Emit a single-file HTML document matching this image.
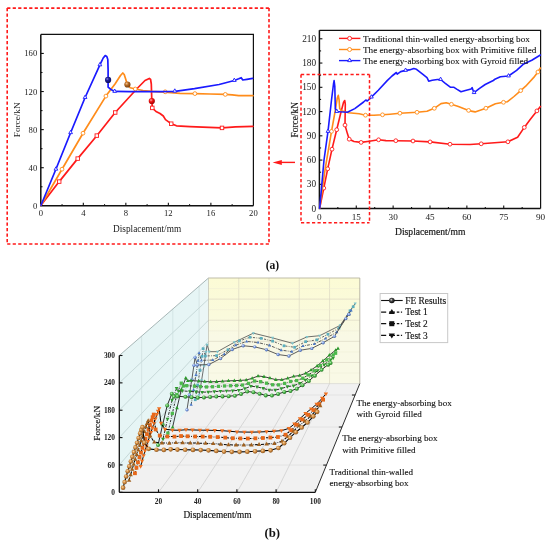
<!DOCTYPE html>
<html><head><meta charset="utf-8"><title>Figure</title><style>html,body{margin:0;padding:0;background:#fff;}svg{display:block;}</style></head><body>
<svg width="550" height="543" viewBox="0 0 550 543" font-family="'Liberation Serif','Times New Roman',serif">
<defs>
<radialGradient id="gNavy" cx="0.38" cy="0.35" r="0.7"><stop offset="0" stop-color="#8a8ae0"/><stop offset="0.35" stop-color="#1f1f9a"/><stop offset="1" stop-color="#0a0a50"/></radialGradient>
<radialGradient id="gBrown" cx="0.38" cy="0.35" r="0.7"><stop offset="0" stop-color="#f0c090"/><stop offset="0.4" stop-color="#b86a20"/><stop offset="1" stop-color="#6a3a10"/></radialGradient>
<radialGradient id="gRed" cx="0.38" cy="0.35" r="0.7"><stop offset="0" stop-color="#ffb0b0"/><stop offset="0.4" stop-color="#f01010"/><stop offset="1" stop-color="#900000"/></radialGradient>
<radialGradient id="sOrg" cx="0.4" cy="0.38" r="0.65"><stop offset="0" stop-color="#f6d8a8"/><stop offset="0.45" stop-color="#d08a40"/><stop offset="1" stop-color="#8a5520"/></radialGradient>
<radialGradient id="sGrn" cx="0.4" cy="0.38" r="0.65"><stop offset="0" stop-color="#c8f0c0"/><stop offset="0.45" stop-color="#4cb84c"/><stop offset="1" stop-color="#1e6e1e"/></radialGradient>
<radialGradient id="sBlu" cx="0.4" cy="0.38" r="0.65"><stop offset="0" stop-color="#e0e8ff"/><stop offset="0.45" stop-color="#7e9ee0"/><stop offset="1" stop-color="#3c5aa0"/></radialGradient>
<radialGradient id="sBlk" cx="0.4" cy="0.38" r="0.65"><stop offset="0" stop-color="#fff"/><stop offset="0.3" stop-color="#555"/><stop offset="1" stop-color="#000"/></radialGradient>
</defs>
<rect width="550" height="543" fill="#fff"/>
<path d="M7.2,8.1H269M7.2,8.1V244M269,8.1V244M7.2,244H269" fill="none" stroke="#ff1a1a" stroke-width="1.6" stroke-dasharray="3.2,2.3"/>
<path d="M40.8,34.4 V205.8 H253.4" fill="none" stroke="#111" stroke-width="1.5"/>
<path d="M40.8,34.4 H253.4 V205.8" fill="none" stroke="#111" stroke-width="1.2"/>
<line x1="62.06" y1="205.8" x2="62.06" y2="204.1" stroke="#111" stroke-width="1"/>
<line x1="83.32" y1="205.8" x2="83.32" y2="202.8" stroke="#111" stroke-width="1.1"/>
<line x1="104.58" y1="205.8" x2="104.58" y2="204.1" stroke="#111" stroke-width="1"/>
<line x1="125.84" y1="205.8" x2="125.84" y2="202.8" stroke="#111" stroke-width="1.1"/>
<line x1="147.1" y1="205.8" x2="147.1" y2="204.1" stroke="#111" stroke-width="1"/>
<line x1="168.36" y1="205.8" x2="168.36" y2="202.8" stroke="#111" stroke-width="1.1"/>
<line x1="189.62" y1="205.8" x2="189.62" y2="204.1" stroke="#111" stroke-width="1"/>
<line x1="210.88" y1="205.8" x2="210.88" y2="202.8" stroke="#111" stroke-width="1.1"/>
<line x1="232.14" y1="205.8" x2="232.14" y2="204.1" stroke="#111" stroke-width="1"/>
<line x1="40.8" y1="186.76" x2="42.5" y2="186.76" stroke="#111" stroke-width="1.1"/>
<line x1="40.8" y1="167.71" x2="43.8" y2="167.71" stroke="#111" stroke-width="1.1"/>
<line x1="40.8" y1="148.67" x2="42.5" y2="148.67" stroke="#111" stroke-width="1.1"/>
<line x1="40.8" y1="129.62" x2="43.8" y2="129.62" stroke="#111" stroke-width="1.1"/>
<line x1="40.8" y1="110.58" x2="42.5" y2="110.58" stroke="#111" stroke-width="1.1"/>
<line x1="40.8" y1="91.53" x2="43.8" y2="91.53" stroke="#111" stroke-width="1.1"/>
<line x1="40.8" y1="72.49" x2="42.5" y2="72.49" stroke="#111" stroke-width="1.1"/>
<line x1="40.8" y1="53.44" x2="43.8" y2="53.44" stroke="#111" stroke-width="1.1"/>
<text x="40.8" y="216.3" font-size="8.6" text-anchor="middle" fill="#1a1a1a">0</text>
<text x="83.32" y="216.3" font-size="8.6" text-anchor="middle" fill="#1a1a1a">4</text>
<text x="125.84" y="216.3" font-size="8.6" text-anchor="middle" fill="#1a1a1a">8</text>
<text x="168.36" y="216.3" font-size="8.6" text-anchor="middle" fill="#1a1a1a">12</text>
<text x="210.88" y="216.3" font-size="8.6" text-anchor="middle" fill="#1a1a1a">16</text>
<text x="253.4" y="216.3" font-size="8.6" text-anchor="middle" fill="#1a1a1a">20</text>
<text x="37.2" y="208.8" font-size="8.6" text-anchor="end" fill="#1a1a1a">0</text>
<text x="37.2" y="170.71" font-size="8.6" text-anchor="end" fill="#1a1a1a">40</text>
<text x="37.2" y="132.62" font-size="8.6" text-anchor="end" fill="#1a1a1a">80</text>
<text x="37.2" y="94.53" font-size="8.6" text-anchor="end" fill="#1a1a1a">120</text>
<text x="37.2" y="56.44" font-size="8.6" text-anchor="end" fill="#1a1a1a">160</text>
<text x="147.1" y="232.2" font-size="9.3" text-anchor="middle" fill="#222">Displacement/mm</text>
<text transform="translate(20.4,119.8) rotate(-90)" font-size="9.2" text-anchor="middle" fill="#222">Force/kN</text>
<polyline points="41,205.3 59.2,181.6 77.7,158.6 96.8,135.7 115.2,112.5 137.6,88 145,80.5 149.3,78.4 150.6,79.5 151.3,84 151.8,100.5 152.3,107.9 156,111.5 160,113.5 163.3,116 165.5,119.6 171,123.6 176.5,125.8 190,126.6 202.7,127.1 222,127.9 235.5,126.8 253,126.3" fill="none" stroke="#ff1a1a" stroke-width="1.7" stroke-linejoin="round" stroke-linecap="round"/>
<rect x="57.45" y="179.85" width="3.5" height="3.5" fill="#fff" stroke="#ff1a1a" stroke-width="0.9"/>
<rect x="75.95" y="156.85" width="3.5" height="3.5" fill="#fff" stroke="#ff1a1a" stroke-width="0.9"/>
<rect x="95.05" y="133.85" width="3.5" height="3.5" fill="#fff" stroke="#ff1a1a" stroke-width="0.9"/>
<rect x="113.45" y="110.75" width="3.5" height="3.5" fill="#fff" stroke="#ff1a1a" stroke-width="0.9"/>
<rect x="150.55" y="106.15" width="3.5" height="3.5" fill="#fff" stroke="#ff1a1a" stroke-width="0.9"/>
<rect x="169.45" y="121.95" width="3.5" height="3.5" fill="#fff" stroke="#ff1a1a" stroke-width="0.9"/>
<rect x="220.25" y="126.15" width="3.5" height="3.5" fill="#fff" stroke="#ff1a1a" stroke-width="0.9"/>
<polyline points="41,205.3 62,169.2 83,133.2 105.9,96.1 115,84 120.5,75.5 122.8,73 124.2,74.5 125.5,78.5 127.2,84.3 130.2,87.7 135.3,89 143,90.5 151.5,91.4 164.8,92.1 180,93.3 194.9,93.6 210,94 225.3,94.4 232.2,94.9 238.7,95.7 253,95.7" fill="none" stroke="#ff8c1a" stroke-width="1.7" stroke-linejoin="round" stroke-linecap="round"/>
<circle cx="62" cy="169.2" r="1.9" fill="#fff" stroke="#ff8c1a" stroke-width="0.9"/>
<circle cx="83" cy="133.2" r="1.9" fill="#fff" stroke="#ff8c1a" stroke-width="0.9"/>
<circle cx="105.9" cy="96.1" r="1.9" fill="#fff" stroke="#ff8c1a" stroke-width="0.9"/>
<circle cx="135.3" cy="89" r="1.9" fill="#fff" stroke="#ff8c1a" stroke-width="0.9"/>
<circle cx="165.2" cy="91.8" r="1.9" fill="#fff" stroke="#ff8c1a" stroke-width="0.9"/>
<circle cx="194.9" cy="93.6" r="1.9" fill="#fff" stroke="#ff8c1a" stroke-width="0.9"/>
<circle cx="225.3" cy="94.4" r="1.9" fill="#fff" stroke="#ff8c1a" stroke-width="0.9"/>
<polyline points="41,205.3 55.9,169.2 70.6,132.7 85.1,97.5 99.9,64.9 103.2,58 105.2,55.6 106.8,56.5 107.8,59.5 108.1,70 108.1,87.2 111,89.5 114.7,91.4 130,91.7 144.2,91.7 160,91.6 175.1,91.3 194.5,88.6 219.1,84.5 234.3,80.5 238.7,78.8 241.2,77.7 242.8,80 246.9,79.3 252.6,78.3" fill="none" stroke="#1a1aff" stroke-width="1.7" stroke-linejoin="round" stroke-linecap="round"/>
<polygon points="55.9,166.81 57.78,170.15 54.02,170.15" fill="#fff" stroke="#1a1aff" stroke-width="0.9"/>
<polygon points="70.6,130.31 72.48,133.65 68.72,133.65" fill="#fff" stroke="#1a1aff" stroke-width="0.9"/>
<polygon points="85.1,95.11 86.98,98.45 83.22,98.45" fill="#fff" stroke="#1a1aff" stroke-width="0.9"/>
<polygon points="99.9,62.51 101.78,65.85 98.02,65.85" fill="#fff" stroke="#1a1aff" stroke-width="0.9"/>
<polygon points="114.7,89.01 116.58,92.35 112.82,92.35" fill="#fff" stroke="#1a1aff" stroke-width="0.9"/>
<polygon points="174.8,88.81 176.68,92.15 172.92,92.15" fill="#fff" stroke="#1a1aff" stroke-width="0.9"/>
<polygon points="234.3,78.11 236.18,81.45 232.42,81.45" fill="#fff" stroke="#1a1aff" stroke-width="0.9"/>
<circle cx="108.1" cy="79.9" r="3.1" fill="url(#gNavy)"/>
<circle cx="127.4" cy="84.5" r="3.1" fill="url(#gBrown)"/>
<circle cx="151.8" cy="101" r="3.1" fill="url(#gRed)"/>
<line x1="295" y1="162.4" x2="279" y2="162.4" stroke="#ff1a1a" stroke-width="1.4"/>
<polygon points="272.6,162.4 281.8,159.9 281.8,164.9" fill="#ff1a1a"/>
<path d="M319.4,30.3 V208.6 H540.6" fill="none" stroke="#111" stroke-width="1.5"/>
<path d="M319.4,30.3 H540.6 V208.6" fill="none" stroke="#111" stroke-width="1.2"/>
<line x1="337.83" y1="208.6" x2="337.83" y2="206.9" stroke="#111" stroke-width="1.1"/>
<line x1="356.27" y1="208.6" x2="356.27" y2="205.6" stroke="#111" stroke-width="1.1"/>
<line x1="374.7" y1="208.6" x2="374.7" y2="206.9" stroke="#111" stroke-width="1.1"/>
<line x1="393.13" y1="208.6" x2="393.13" y2="205.6" stroke="#111" stroke-width="1.1"/>
<line x1="411.57" y1="208.6" x2="411.57" y2="206.9" stroke="#111" stroke-width="1.1"/>
<line x1="430" y1="208.6" x2="430" y2="205.6" stroke="#111" stroke-width="1.1"/>
<line x1="448.43" y1="208.6" x2="448.43" y2="206.9" stroke="#111" stroke-width="1.1"/>
<line x1="466.87" y1="208.6" x2="466.87" y2="205.6" stroke="#111" stroke-width="1.1"/>
<line x1="485.3" y1="208.6" x2="485.3" y2="206.9" stroke="#111" stroke-width="1.1"/>
<line x1="503.73" y1="208.6" x2="503.73" y2="205.6" stroke="#111" stroke-width="1.1"/>
<line x1="522.17" y1="208.6" x2="522.17" y2="206.9" stroke="#111" stroke-width="1.1"/>
<line x1="319.4" y1="196.47" x2="321.1" y2="196.47" stroke="#111" stroke-width="1.1"/>
<line x1="319.4" y1="184.34" x2="322.4" y2="184.34" stroke="#111" stroke-width="1.1"/>
<line x1="319.4" y1="172.21" x2="321.1" y2="172.21" stroke="#111" stroke-width="1.1"/>
<line x1="319.4" y1="160.08" x2="322.4" y2="160.08" stroke="#111" stroke-width="1.1"/>
<line x1="319.4" y1="147.95" x2="321.1" y2="147.95" stroke="#111" stroke-width="1.1"/>
<line x1="319.4" y1="135.82" x2="322.4" y2="135.82" stroke="#111" stroke-width="1.1"/>
<line x1="319.4" y1="123.7" x2="321.1" y2="123.7" stroke="#111" stroke-width="1.1"/>
<line x1="319.4" y1="111.57" x2="322.4" y2="111.57" stroke="#111" stroke-width="1.1"/>
<line x1="319.4" y1="99.44" x2="321.1" y2="99.44" stroke="#111" stroke-width="1.1"/>
<line x1="319.4" y1="87.31" x2="322.4" y2="87.31" stroke="#111" stroke-width="1.1"/>
<line x1="319.4" y1="75.18" x2="321.1" y2="75.18" stroke="#111" stroke-width="1.1"/>
<line x1="319.4" y1="63.05" x2="322.4" y2="63.05" stroke="#111" stroke-width="1.1"/>
<line x1="319.4" y1="50.92" x2="321.1" y2="50.92" stroke="#111" stroke-width="1.1"/>
<line x1="319.4" y1="38.79" x2="322.4" y2="38.79" stroke="#111" stroke-width="1.1"/>
<text x="319.4" y="219.7" font-size="9.2" text-anchor="middle" fill="#1a1a1a">0</text>
<text x="356.27" y="219.7" font-size="9.2" text-anchor="middle" fill="#1a1a1a">15</text>
<text x="393.13" y="219.7" font-size="9.2" text-anchor="middle" fill="#1a1a1a">30</text>
<text x="430" y="219.7" font-size="9.2" text-anchor="middle" fill="#1a1a1a">45</text>
<text x="466.87" y="219.7" font-size="9.2" text-anchor="middle" fill="#1a1a1a">60</text>
<text x="503.73" y="219.7" font-size="9.2" text-anchor="middle" fill="#1a1a1a">75</text>
<text x="540.6" y="219.7" font-size="9.2" text-anchor="middle" fill="#1a1a1a">90</text>
<text x="316.1" y="211.7" font-size="9.3" text-anchor="end" fill="#1a1a1a">0</text>
<text x="316.1" y="187.44" font-size="9.3" text-anchor="end" fill="#1a1a1a">30</text>
<text x="316.1" y="163.18" font-size="9.3" text-anchor="end" fill="#1a1a1a">60</text>
<text x="316.1" y="138.92" font-size="9.3" text-anchor="end" fill="#1a1a1a">90</text>
<text x="316.1" y="114.67" font-size="9.3" text-anchor="end" fill="#1a1a1a">120</text>
<text x="316.1" y="90.41" font-size="9.3" text-anchor="end" fill="#1a1a1a">150</text>
<text x="316.1" y="66.15" font-size="9.3" text-anchor="end" fill="#1a1a1a">180</text>
<text x="316.1" y="41.89" font-size="9.3" text-anchor="end" fill="#1a1a1a">210</text>
<text x="430.2" y="234.5" font-size="9.6" text-anchor="middle" fill="#1a1a1a" stroke="#1a1a1a" stroke-width="0.2">Displacement/mm</text>
<text transform="translate(298.2,119.8) rotate(-90)" font-size="9.4" text-anchor="middle" fill="#1a1a1a" stroke="#1a1a1a" stroke-width="0.15">Force/kN</text>
<polyline points="319.7,208.1 323.8,188.1 327.7,168.8 332,149.2 336.7,129.7 341,112 343.5,102.5 344.7,100.5 345.3,104 345,125.1 347.4,133.6 349.2,139.2 354,141.5 361.1,142.4 369.2,141.2 378.6,139.8 386,140.6 395.8,140.7 413,141 430.1,141.9 450,144.2 470,144.5 481.2,143.8 507.9,141.8 517.6,137.2 524.3,127.4 529.8,120 536.9,110.9 540.4,106.5" fill="none" stroke="#ff1a1a" stroke-width="1.6" stroke-linejoin="round" stroke-linecap="round"/>
<circle cx="323.8" cy="188.1" r="1.9" fill="#fff" stroke="#ff1a1a" stroke-width="0.9"/>
<circle cx="327.7" cy="168.8" r="1.9" fill="#fff" stroke="#ff1a1a" stroke-width="0.9"/>
<circle cx="332" cy="149.2" r="1.9" fill="#fff" stroke="#ff1a1a" stroke-width="0.9"/>
<circle cx="336.7" cy="129.7" r="1.9" fill="#fff" stroke="#ff1a1a" stroke-width="0.9"/>
<circle cx="345" cy="125.1" r="1.9" fill="#fff" stroke="#ff1a1a" stroke-width="0.9"/>
<circle cx="349.2" cy="139.2" r="1.9" fill="#fff" stroke="#ff1a1a" stroke-width="0.9"/>
<circle cx="361.1" cy="142.4" r="1.9" fill="#fff" stroke="#ff1a1a" stroke-width="0.9"/>
<circle cx="378.6" cy="139.8" r="1.9" fill="#fff" stroke="#ff1a1a" stroke-width="0.9"/>
<circle cx="395.8" cy="140.7" r="1.9" fill="#fff" stroke="#ff1a1a" stroke-width="0.9"/>
<circle cx="413" cy="141" r="1.9" fill="#fff" stroke="#ff1a1a" stroke-width="0.9"/>
<circle cx="430.1" cy="141.9" r="1.9" fill="#fff" stroke="#ff1a1a" stroke-width="0.9"/>
<circle cx="450" cy="144.2" r="1.9" fill="#fff" stroke="#ff1a1a" stroke-width="0.9"/>
<circle cx="481.2" cy="143.8" r="1.9" fill="#fff" stroke="#ff1a1a" stroke-width="0.9"/>
<circle cx="507.9" cy="141.8" r="1.9" fill="#fff" stroke="#ff1a1a" stroke-width="0.9"/>
<circle cx="524.3" cy="127.4" r="1.9" fill="#fff" stroke="#ff1a1a" stroke-width="0.9"/>
<circle cx="536.9" cy="110.9" r="1.9" fill="#fff" stroke="#ff1a1a" stroke-width="0.9"/>
<polyline points="319.7,208.1 325,170 331.5,131.4 335,112 337.3,98 338.3,95.3 339.1,100 339.7,108.6 341.5,110.8 348.6,112.7 359.2,113.8 365.5,115.2 373.9,115.2 382.5,114.8 390,114.2 399.9,113.2 417,112.3 427,111.3 434.3,108.3 441,103.6 446.2,102.7 451.4,104.3 458.4,106.6 468.6,110.6 475.1,111.9 485.9,108.2 495.4,103.8 503.5,102.3 507.5,101.7 514,96.5 520.7,90.6 525.7,86.2 533.8,77.4 537.9,72 540.4,68" fill="none" stroke="#ff8c1a" stroke-width="1.6" stroke-linejoin="round" stroke-linecap="round"/>
<circle cx="331.5" cy="131.4" r="1.9" fill="#fff" stroke="#ff8c1a" stroke-width="0.9"/>
<circle cx="365.5" cy="115.2" r="1.9" fill="#fff" stroke="#ff8c1a" stroke-width="0.9"/>
<circle cx="382.5" cy="114.8" r="1.9" fill="#fff" stroke="#ff8c1a" stroke-width="0.9"/>
<circle cx="399.9" cy="113.2" r="1.9" fill="#fff" stroke="#ff8c1a" stroke-width="0.9"/>
<circle cx="417" cy="112.3" r="1.9" fill="#fff" stroke="#ff8c1a" stroke-width="0.9"/>
<circle cx="434.3" cy="108.3" r="1.9" fill="#fff" stroke="#ff8c1a" stroke-width="0.9"/>
<circle cx="451.4" cy="104.3" r="1.9" fill="#fff" stroke="#ff8c1a" stroke-width="0.9"/>
<circle cx="468.6" cy="110.4" r="1.9" fill="#fff" stroke="#ff8c1a" stroke-width="0.9"/>
<circle cx="485.9" cy="108.2" r="1.9" fill="#fff" stroke="#ff8c1a" stroke-width="0.9"/>
<circle cx="503.5" cy="102.3" r="1.9" fill="#fff" stroke="#ff8c1a" stroke-width="0.9"/>
<circle cx="520.7" cy="90.6" r="1.9" fill="#fff" stroke="#ff8c1a" stroke-width="0.9"/>
<circle cx="537.9" cy="72" r="1.9" fill="#fff" stroke="#ff8c1a" stroke-width="0.9"/>
<polyline points="319.7,208.1 324,160 328,131.4 331.5,100 333.5,84 334.1,80.6 334.8,86 335.3,108.6 336.8,111.5 340,111.8 347.4,112.3 354.8,108.6 363.6,102 365.8,100 367.3,101 371.4,97.1 378.3,90.2 387.2,80.6 392,76 396.4,72.5 397.2,74.2 400.7,71.6 405.6,70.4 409.5,69.9 413.8,68.6 416.5,69.3 422.6,74.2 427,77.7 428.7,81.2 432.2,80.3 437.4,79.5 440.6,79.5 445.3,83.3 450.6,87.3 454,87.3 456.7,89.1 461,91.7 465.4,90.5 471.1,89 472.1,87.6 473.1,90.6 474.1,92.6 479.2,88.6 485.2,84.5 493.3,80.5 495.4,78.9 500.4,76.8 508.5,76 516.6,70.4 523.7,63.9 531.8,60.2 540.4,55" fill="none" stroke="#1a1aff" stroke-width="1.6" stroke-linejoin="round" stroke-linecap="round"/>
<polygon points="328,129.01 329.88,132.35 326.12,132.35" fill="#fff" stroke="#1a1aff" stroke-width="0.9"/>
<polygon points="336.8,109.11 338.68,112.45 334.92,112.45" fill="#fff" stroke="#1a1aff" stroke-width="0.9"/>
<polygon points="371.4,94.71 373.28,98.05 369.52,98.05" fill="#fff" stroke="#1a1aff" stroke-width="0.9"/>
<polygon points="405.6,68.01 407.48,71.35 403.72,71.35" fill="#fff" stroke="#1a1aff" stroke-width="0.9"/>
<polygon points="440.6,77.11 442.48,80.45 438.72,80.45" fill="#fff" stroke="#1a1aff" stroke-width="0.9"/>
<polygon points="474.1,90.21 475.98,93.55 472.22,93.55" fill="#fff" stroke="#1a1aff" stroke-width="0.9"/>
<polygon points="508.5,73.61 510.38,76.95 506.62,76.95" fill="#fff" stroke="#1a1aff" stroke-width="0.9"/>
<line x1="339" y1="38.4" x2="360.4" y2="38.4" stroke="#ff1a1a" stroke-width="1.4"/>
<circle cx="349.6" cy="38.4" r="2" fill="#fff" stroke="#ff1a1a" stroke-width="0.9"/>
<text x="363" y="41.5" font-size="9.18" fill="#111" stroke="#111" stroke-width="0.1">Traditional thin-walled energy-absorbing box</text>
<line x1="339" y1="49.5" x2="360.4" y2="49.5" stroke="#ff8c1a" stroke-width="1.4"/>
<circle cx="349.6" cy="49.5" r="2" fill="#fff" stroke="#ff8c1a" stroke-width="0.9"/>
<text x="363" y="52.6" font-size="9.18" fill="#111" stroke="#111" stroke-width="0.1">The energy-absorbing box with Primitive filled</text>
<line x1="339" y1="60.6" x2="360.4" y2="60.6" stroke="#1a1aff" stroke-width="1.4"/>
<polygon points="349.6,58.1 351.58,61.62 347.62,61.62" fill="#fff" stroke="#1a1aff" stroke-width="0.9"/>
<text x="363" y="63.7" font-size="9.18" fill="#111" stroke="#111" stroke-width="0.1">The energy-absorbing box with Gyroid filled</text>
<path d="M301,74.6H369.5M301,74.6V222.7M369.5,74.6V222.7M301,222.7H369.5" fill="none" stroke="#ff1a1a" stroke-width="1.5" stroke-dasharray="3.2,2.3"/>
<text x="272.4" y="268.6" font-size="11.6" font-weight="bold" text-anchor="middle" fill="#111">(a)</text>
<polygon points="119.3,492.3 208.49,383.6 208.49,277.99 119.3,355.5" fill="#e6f5f5" stroke="none" stroke-width="0"/>
<polygon points="199.11,395.02 208.49,383.6 208.49,277.99 199.11,286.13" fill="#ebf6f6" stroke="none" stroke-width="0"/>
<linearGradient id="gWall" x1="0" y1="0" x2="0" y2="1"><stop offset="0" stop-color="#fcfbd5"/><stop offset="0.35" stop-color="#fafadc"/><stop offset="0.55" stop-color="#f9f9e5"/><stop offset="1" stop-color="#f9f9e6"/></linearGradient>
<polygon points="208.49,383.6 359.8,383.6 359.8,277.99 208.49,277.99" fill="url(#gWall)" stroke="none" stroke-width="0"/>
<polygon points="119.3,492.3 315.3,492.3 359.8,383.6 208.49,383.6" fill="#f1f1f1" stroke="none" stroke-width="0"/>
<line x1="238.75" y1="383.6" x2="238.75" y2="277.99" stroke="#dcd9c4" stroke-width="0.7"/>
<line x1="158.5" y1="492.3" x2="238.75" y2="383.6" stroke="#c4c4c4" stroke-width="0.6"/>
<line x1="269.01" y1="383.6" x2="269.01" y2="277.99" stroke="#dcd9c4" stroke-width="0.7"/>
<line x1="197.7" y1="492.3" x2="269.01" y2="383.6" stroke="#c4c4c4" stroke-width="0.6"/>
<line x1="299.27" y1="383.6" x2="299.27" y2="277.99" stroke="#dcd9c4" stroke-width="0.7"/>
<line x1="236.9" y1="492.3" x2="299.27" y2="383.6" stroke="#c4c4c4" stroke-width="0.6"/>
<line x1="329.54" y1="383.6" x2="329.54" y2="277.99" stroke="#dcd9c4" stroke-width="0.7"/>
<line x1="276.1" y1="492.3" x2="329.54" y2="383.6" stroke="#c4c4c4" stroke-width="0.6"/>
<line x1="208.49" y1="373.04" x2="359.8" y2="373.04" stroke="#efedd6" stroke-width="0.5"/>
<line x1="208.49" y1="351.92" x2="359.8" y2="351.92" stroke="#efedd6" stroke-width="0.5"/>
<line x1="208.49" y1="330.79" x2="359.8" y2="330.79" stroke="#efedd6" stroke-width="0.5"/>
<line x1="208.49" y1="309.67" x2="359.8" y2="309.67" stroke="#efedd6" stroke-width="0.5"/>
<line x1="208.49" y1="288.55" x2="359.8" y2="288.55" stroke="#efedd6" stroke-width="0.5"/>
<line x1="208.49" y1="362.48" x2="359.8" y2="362.48" stroke="#dcd9c4" stroke-width="0.7"/>
<line x1="119.3" y1="464.94" x2="208.49" y2="362.48" stroke="#b0c4c4" stroke-width="0.6"/>
<line x1="208.49" y1="341.36" x2="359.8" y2="341.36" stroke="#dcd9c4" stroke-width="0.7"/>
<line x1="119.3" y1="437.58" x2="208.49" y2="341.36" stroke="#b0c4c4" stroke-width="0.6"/>
<line x1="208.49" y1="320.23" x2="359.8" y2="320.23" stroke="#dcd9c4" stroke-width="0.7"/>
<line x1="119.3" y1="410.22" x2="208.49" y2="320.23" stroke="#b0c4c4" stroke-width="0.6"/>
<line x1="208.49" y1="299.11" x2="359.8" y2="299.11" stroke="#dcd9c4" stroke-width="0.7"/>
<line x1="119.3" y1="382.86" x2="208.49" y2="299.11" stroke="#b0c4c4" stroke-width="0.6"/>
<line x1="141.63" y1="465.08" x2="141.63" y2="336.09" stroke="#c8dada" stroke-width="0.6"/>
<line x1="141.63" y1="465.08" x2="326.44" y2="465.08" stroke="#d8d8d8" stroke-width="0.6"/>
<line x1="172.84" y1="427.04" x2="172.84" y2="308.96" stroke="#c8dada" stroke-width="0.6"/>
<line x1="172.84" y1="427.04" x2="342.02" y2="427.04" stroke="#d8d8d8" stroke-width="0.6"/>
<line x1="199.11" y1="395.02" x2="199.11" y2="286.13" stroke="#c8dada" stroke-width="0.6"/>
<line x1="199.11" y1="395.02" x2="355.13" y2="395.02" stroke="#d8d8d8" stroke-width="0.6"/>
<line x1="119.3" y1="355.5" x2="208.49" y2="277.99" stroke="#8fa0a0" stroke-width="0.75"/>
<line x1="208.49" y1="277.99" x2="359.8" y2="277.99" stroke="#b0ad98" stroke-width="0.8"/>
<line x1="359.8" y1="277.99" x2="359.8" y2="383.6" stroke="#a8a696" stroke-width="0.8"/>
<line x1="208.49" y1="383.6" x2="359.8" y2="383.6" stroke="#d0d0c8" stroke-width="0.6"/>
<line x1="208.49" y1="383.6" x2="208.49" y2="277.99" stroke="#bdbdb0" stroke-width="0.7"/>
<polyline points="199.26,394.84 201.6,380.33 203.94,365.82 205.97,352.03 207.06,344.78 209.24,351.67 217.51,351.67 234.35,342.24 253.37,333.17 272.55,337.88 292.51,343.33 306.86,336.94 319.64,335.71 340.23,325.33 355.2,303.42" fill="none" stroke="#555" stroke-width="0.84" stroke-linejoin="round"/>
<polygon points="199.26,396.57 200.82,393.8 197.7,393.8" fill="#7cc4cc"/>
<polygon points="201.6,382.06 203.16,379.29 200.04,379.29" fill="#7cc4cc"/>
<polygon points="203.94,367.55 205.5,364.78 202.38,364.78" fill="#7cc4cc"/>
<polygon points="205.97,353.76 207.52,350.99 204.41,350.99" fill="#7cc4cc"/>
<polygon points="207.06,346.51 208.62,343.74 205.5,343.74" fill="#7cc4cc"/>
<polygon points="209.24,353.4 210.8,350.63 207.68,350.63" fill="#7cc4cc"/>
<polygon points="217.51,353.4 219.06,350.63 215.95,350.63" fill="#7cc4cc"/>
<polygon points="234.35,343.97 235.9,341.2 232.79,341.2" fill="#7cc4cc"/>
<polygon points="253.37,334.9 254.93,332.13 251.81,332.13" fill="#7cc4cc"/>
<polygon points="272.55,339.62 274.11,336.85 270.99,336.85" fill="#7cc4cc"/>
<polygon points="292.51,345.06 294.07,342.29 290.95,342.29" fill="#7cc4cc"/>
<polygon points="306.86,338.67 308.42,335.9 305.3,335.9" fill="#7cc4cc"/>
<polygon points="319.64,337.44 321.2,334.67 318.09,334.67" fill="#7cc4cc"/>
<polygon points="340.23,327.06 341.79,324.29 338.67,324.29" fill="#7cc4cc"/>
<polygon points="355.2,305.15 356.76,302.38 353.64,302.38" fill="#7cc4cc"/>
<polyline points="195.26,399.72 197.63,385.02 200,370.32 202.05,356.36 203.16,348.64 205.37,355.99 216.58,355.62 227.96,349.74 239.33,340.92 250.07,337.25 261.28,338.35 272.65,341.14 284.02,345.81 294.61,347.28 305.66,341.66 316.88,339.82 327.93,334.31 338.99,328.06 350.04,310.79 353.2,306.75" fill="none" stroke="#4a4a4a" stroke-width="0.85" stroke-linejoin="round" stroke-dasharray="2.2,1.3,0.8,1.3"/>
<rect x="193.89" y="398.35" width="2.74" height="2.74" fill="#5aaebe"/>
<rect x="196.26" y="383.65" width="2.74" height="2.74" fill="#5aaebe"/>
<rect x="198.63" y="368.95" width="2.74" height="2.74" fill="#5aaebe"/>
<rect x="200.68" y="354.99" width="2.74" height="2.74" fill="#5aaebe"/>
<rect x="201.79" y="347.27" width="2.74" height="2.74" fill="#5aaebe"/>
<rect x="204" y="354.62" width="2.74" height="2.74" fill="#5aaebe"/>
<rect x="215.21" y="354.25" width="2.74" height="2.74" fill="#5aaebe"/>
<rect x="226.58" y="348.37" width="2.74" height="2.74" fill="#5aaebe"/>
<rect x="237.95" y="339.55" width="2.74" height="2.74" fill="#5aaebe"/>
<rect x="248.69" y="335.88" width="2.74" height="2.74" fill="#5aaebe"/>
<rect x="259.91" y="336.98" width="2.74" height="2.74" fill="#5aaebe"/>
<rect x="271.28" y="339.77" width="2.74" height="2.74" fill="#5aaebe"/>
<rect x="282.65" y="344.44" width="2.74" height="2.74" fill="#5aaebe"/>
<rect x="293.23" y="345.91" width="2.74" height="2.74" fill="#5aaebe"/>
<rect x="304.29" y="340.29" width="2.74" height="2.74" fill="#5aaebe"/>
<rect x="315.5" y="338.45" width="2.74" height="2.74" fill="#5aaebe"/>
<rect x="326.56" y="332.94" width="2.74" height="2.74" fill="#5aaebe"/>
<rect x="337.62" y="326.69" width="2.74" height="2.74" fill="#5aaebe"/>
<rect x="348.67" y="309.42" width="2.74" height="2.74" fill="#5aaebe"/>
<rect x="351.83" y="305.38" width="2.74" height="2.74" fill="#5aaebe"/>
<polyline points="191.16,404.72 193.56,389.83 195.96,374.94 198.04,360.79 199.16,352.98 201.4,360.42 212.76,360.05 224.28,354.09 235.8,345.16 246.68,341.44 258.04,342.55 269.56,345.38 281.08,350.11 291.8,351.6 303,345.9 314.36,344.04 325.56,338.46 336.76,332.13 347.96,314.64 351.16,310.54" fill="none" stroke="#444" stroke-width="0.86" stroke-linejoin="round" stroke-dasharray="3,1.2,0.8,1.2"/>
<polygon points="191.16,402.94 192.76,405.78 189.56,405.78" fill="#4a78c8"/>
<polygon points="193.56,388.05 195.16,390.89 191.96,390.89" fill="#4a78c8"/>
<polygon points="195.96,373.16 197.56,376.01 194.36,376.01" fill="#4a78c8"/>
<polygon points="198.04,359.02 199.64,361.86 196.44,361.86" fill="#4a78c8"/>
<polygon points="199.16,351.2 200.76,354.04 197.56,354.04" fill="#4a78c8"/>
<polygon points="201.4,358.65 203,361.49 199.8,361.49" fill="#4a78c8"/>
<polygon points="212.76,358.27 214.36,361.12 211.16,361.12" fill="#4a78c8"/>
<polygon points="224.28,352.32 225.88,355.16 222.68,355.16" fill="#4a78c8"/>
<polygon points="235.8,343.38 237.4,346.23 234.2,346.23" fill="#4a78c8"/>
<polygon points="246.68,339.66 248.28,342.5 245.08,342.5" fill="#4a78c8"/>
<polygon points="258.04,340.78 259.64,343.62 256.44,343.62" fill="#4a78c8"/>
<polygon points="269.56,343.61 271.16,346.45 267.96,346.45" fill="#4a78c8"/>
<polygon points="281.08,348.33 282.68,351.18 279.48,351.18" fill="#4a78c8"/>
<polygon points="291.8,349.82 293.39,352.67 290.2,352.67" fill="#4a78c8"/>
<polygon points="303,344.13 304.59,346.97 301.4,346.97" fill="#4a78c8"/>
<polygon points="314.36,342.27 315.95,345.11 312.76,345.11" fill="#4a78c8"/>
<polygon points="325.56,336.68 327.15,339.53 323.96,339.53" fill="#4a78c8"/>
<polygon points="336.76,330.36 338.35,333.2 335.16,333.2" fill="#4a78c8"/>
<polygon points="347.96,312.86 349.55,315.7 346.36,315.7" fill="#4a78c8"/>
<polygon points="351.16,308.77 352.75,311.61 349.56,311.61" fill="#4a78c8"/>
<polyline points="186.95,409.85 189.38,394.77 191.81,379.68 193.92,365.35 195.05,357.43 197.32,364.97 208.83,364.59 220.5,358.56 232.17,349.51 243.2,345.74 254.71,346.87 266.38,349.73 278.05,354.52 288.91,356.03 300.26,350.26 311.77,348.38 323.12,342.72 334.46,336.31 345.81,318.58 349.05,314.43" fill="none" stroke="#444" stroke-width="0.87" stroke-linejoin="round"/>
<circle cx="186.95" cy="409.85" r="1.67" fill="url(#sBlu)"/>
<circle cx="189.38" cy="394.77" r="1.67" fill="url(#sBlu)"/>
<circle cx="191.81" cy="379.68" r="1.67" fill="url(#sBlu)"/>
<circle cx="193.92" cy="365.35" r="1.67" fill="url(#sBlu)"/>
<circle cx="195.05" cy="357.43" r="1.67" fill="url(#sBlu)"/>
<circle cx="197.32" cy="364.97" r="1.67" fill="url(#sBlu)"/>
<circle cx="208.83" cy="364.59" r="1.67" fill="url(#sBlu)"/>
<circle cx="220.5" cy="358.56" r="1.67" fill="url(#sBlu)"/>
<circle cx="232.17" cy="349.51" r="1.67" fill="url(#sBlu)"/>
<circle cx="243.2" cy="345.74" r="1.67" fill="url(#sBlu)"/>
<circle cx="254.71" cy="346.87" r="1.67" fill="url(#sBlu)"/>
<circle cx="266.38" cy="349.73" r="1.67" fill="url(#sBlu)"/>
<circle cx="278.05" cy="354.52" r="1.67" fill="url(#sBlu)"/>
<circle cx="288.91" cy="356.03" r="1.67" fill="url(#sBlu)"/>
<circle cx="300.26" cy="350.26" r="1.67" fill="url(#sBlu)"/>
<circle cx="311.77" cy="348.38" r="1.67" fill="url(#sBlu)"/>
<circle cx="323.12" cy="342.72" r="1.67" fill="url(#sBlu)"/>
<circle cx="334.46" cy="336.31" r="1.67" fill="url(#sBlu)"/>
<circle cx="345.81" cy="318.58" r="1.67" fill="url(#sBlu)"/>
<circle cx="349.05" cy="314.43" r="1.67" fill="url(#sBlu)"/>
<polyline points="172.59,427.35 176.99,407.9 181.39,389.38 185.79,378.12 187.82,380.88 191.21,380.56 198.83,381.06 204.75,381.51 210.68,381.84 216.6,381.63 222.53,381.24 228.46,380.86 234.38,380.64 240.31,380.41 246.23,380 252.16,378.34 258.08,375.98 264.01,376.66 269.93,378.11 275.86,379.69 281.79,379.79 287.71,378.32 293.64,376.36 299.56,375.54 305.66,373.25 311.08,369.99 317.17,365.9 322.93,360.78 329.36,355.13 335.62,350.21 337.99,348.58" fill="none" stroke="#2a2a2a" stroke-width="0.91" stroke-linejoin="round"/>
<polygon points="172.59,425.28 174.45,428.6 170.72,428.6" fill="#2a9a2a"/>
<polygon points="176.99,405.82 178.86,409.14 175.12,409.14" fill="#2a9a2a"/>
<polygon points="181.39,387.31 183.26,390.63 179.52,390.63" fill="#2a9a2a"/>
<polygon points="185.79,376.04 187.66,379.36 183.92,379.36" fill="#2a9a2a"/>
<polygon points="187.82,378.8 189.69,382.12 185.95,382.12" fill="#2a9a2a"/>
<polygon points="191.21,378.48 193.08,381.8 189.34,381.8" fill="#2a9a2a"/>
<polygon points="198.83,378.99 200.7,382.31 196.96,382.31" fill="#2a9a2a"/>
<polygon points="204.75,379.44 206.62,382.76 202.88,382.76" fill="#2a9a2a"/>
<polygon points="210.68,379.77 212.55,383.09 208.81,383.09" fill="#2a9a2a"/>
<polygon points="216.6,379.55 218.47,382.88 214.74,382.88" fill="#2a9a2a"/>
<polygon points="222.53,379.17 224.4,382.49 220.66,382.49" fill="#2a9a2a"/>
<polygon points="228.46,378.79 230.32,382.11 226.59,382.11" fill="#2a9a2a"/>
<polygon points="234.38,378.57 236.25,381.89 232.51,381.89" fill="#2a9a2a"/>
<polygon points="240.31,378.33 242.18,381.65 238.44,381.65" fill="#2a9a2a"/>
<polygon points="246.23,377.93 248.1,381.25 244.36,381.25" fill="#2a9a2a"/>
<polygon points="252.16,376.26 254.03,379.59 250.29,379.59" fill="#2a9a2a"/>
<polygon points="258.08,373.91 259.95,377.23 256.22,377.23" fill="#2a9a2a"/>
<polygon points="264.01,374.59 265.88,377.91 262.14,377.91" fill="#2a9a2a"/>
<polygon points="269.93,376.03 271.8,379.35 268.07,379.35" fill="#2a9a2a"/>
<polygon points="275.86,377.61 277.73,380.93 273.99,380.93" fill="#2a9a2a"/>
<polygon points="281.79,377.72 283.65,381.04 279.92,381.04" fill="#2a9a2a"/>
<polygon points="287.71,376.25 289.58,379.57 285.84,379.57" fill="#2a9a2a"/>
<polygon points="293.64,374.29 295.51,377.61 291.77,377.61" fill="#2a9a2a"/>
<polygon points="299.56,373.47 301.43,376.79 297.69,376.79" fill="#2a9a2a"/>
<polygon points="305.66,371.17 307.53,374.49 303.79,374.49" fill="#2a9a2a"/>
<polygon points="311.08,367.91 312.94,371.23 309.21,371.23" fill="#2a9a2a"/>
<polygon points="317.17,363.82 319.04,367.14 315.3,367.14" fill="#2a9a2a"/>
<polygon points="322.93,358.7 324.8,362.03 321.06,362.03" fill="#2a9a2a"/>
<polygon points="329.36,353.06 331.23,356.38 327.49,356.38" fill="#2a9a2a"/>
<polygon points="335.62,348.13 337.49,351.46 333.76,351.46" fill="#2a9a2a"/>
<polygon points="337.99,346.5 339.86,349.82 336.13,349.82" fill="#2a9a2a"/>
<polyline points="167.87,433.11 172.33,413.38 176.79,394.61 181.26,383.18 183.32,385.98 186.75,385.65 194.47,386.17 200.48,386.62 206.49,386.96 212.5,386.74 218.51,386.35 224.52,385.97 230.52,385.74 236.53,385.5 242.54,385.1 248.55,383.41 254.56,381.02 260.57,381.71 266.57,383.17 272.58,384.77 278.59,384.88 284.6,383.39 290.61,381.4 296.62,380.57 302.8,378.24 308.29,374.94 314.47,370.79 320.31,365.6 326.83,359.87 333.18,354.89 335.59,353.23" fill="none" stroke="#222" stroke-width="0.92" stroke-linejoin="round" stroke-dasharray="2.2,1.3,0.8,1.3"/>
<rect x="166.22" y="431.46" width="3.29" height="3.29" fill="#4cb84c"/>
<rect x="170.68" y="411.73" width="3.29" height="3.29" fill="#4cb84c"/>
<rect x="175.15" y="392.96" width="3.29" height="3.29" fill="#4cb84c"/>
<rect x="179.61" y="381.54" width="3.29" height="3.29" fill="#4cb84c"/>
<rect x="181.67" y="384.33" width="3.29" height="3.29" fill="#4cb84c"/>
<rect x="185.1" y="384.01" width="3.29" height="3.29" fill="#4cb84c"/>
<rect x="192.83" y="384.52" width="3.29" height="3.29" fill="#4cb84c"/>
<rect x="198.84" y="384.98" width="3.29" height="3.29" fill="#4cb84c"/>
<rect x="204.84" y="385.31" width="3.29" height="3.29" fill="#4cb84c"/>
<rect x="210.85" y="385.1" width="3.29" height="3.29" fill="#4cb84c"/>
<rect x="216.86" y="384.7" width="3.29" height="3.29" fill="#4cb84c"/>
<rect x="222.87" y="384.32" width="3.29" height="3.29" fill="#4cb84c"/>
<rect x="228.88" y="384.1" width="3.29" height="3.29" fill="#4cb84c"/>
<rect x="234.89" y="383.86" width="3.29" height="3.29" fill="#4cb84c"/>
<rect x="240.89" y="383.45" width="3.29" height="3.29" fill="#4cb84c"/>
<rect x="246.9" y="381.76" width="3.29" height="3.29" fill="#4cb84c"/>
<rect x="252.91" y="379.37" width="3.29" height="3.29" fill="#4cb84c"/>
<rect x="258.92" y="380.06" width="3.29" height="3.29" fill="#4cb84c"/>
<rect x="264.93" y="381.53" width="3.29" height="3.29" fill="#4cb84c"/>
<rect x="270.94" y="383.12" width="3.29" height="3.29" fill="#4cb84c"/>
<rect x="276.94" y="383.23" width="3.29" height="3.29" fill="#4cb84c"/>
<rect x="282.95" y="381.74" width="3.29" height="3.29" fill="#4cb84c"/>
<rect x="288.96" y="379.76" width="3.29" height="3.29" fill="#4cb84c"/>
<rect x="294.97" y="378.92" width="3.29" height="3.29" fill="#4cb84c"/>
<rect x="301.15" y="376.6" width="3.29" height="3.29" fill="#4cb84c"/>
<rect x="306.64" y="373.29" width="3.29" height="3.29" fill="#4cb84c"/>
<rect x="312.82" y="369.14" width="3.29" height="3.29" fill="#4cb84c"/>
<rect x="318.66" y="363.95" width="3.29" height="3.29" fill="#4cb84c"/>
<rect x="325.18" y="358.23" width="3.29" height="3.29" fill="#4cb84c"/>
<rect x="331.53" y="353.24" width="3.29" height="3.29" fill="#4cb84c"/>
<rect x="333.94" y="351.58" width="3.29" height="3.29" fill="#4cb84c"/>
<polyline points="163.01,439.02 167.54,419.01 172.07,399.98 176.59,388.39 178.68,391.23 182.16,390.9 190,391.42 196.09,391.88 202.19,392.22 208.28,392 214.37,391.6 220.47,391.21 226.56,390.99 232.65,390.75 238.75,390.33 244.84,388.62 250.93,386.19 257.03,386.89 263.12,388.38 269.21,390 275.31,390.11 281.4,388.6 287.49,386.59 293.59,385.74 299.85,383.38 305.43,380.03 311.69,375.82 317.61,370.56 324.23,364.75 330.67,359.69 333.11,358.01" fill="none" stroke="#222" stroke-width="0.93" stroke-linejoin="round" stroke-dasharray="3,1.2,0.8,1.2"/>
<polygon points="163.01,441.16 164.93,437.74 161.09,437.74" fill="#2e9a2e"/>
<polygon points="167.54,421.15 169.46,417.73 165.62,417.73" fill="#2e9a2e"/>
<polygon points="172.07,402.11 173.99,398.69 170.14,398.69" fill="#2e9a2e"/>
<polygon points="176.59,390.53 178.51,387.11 174.67,387.11" fill="#2e9a2e"/>
<polygon points="178.68,393.36 180.6,389.95 176.76,389.95" fill="#2e9a2e"/>
<polygon points="182.16,393.03 184.09,389.62 180.24,389.62" fill="#2e9a2e"/>
<polygon points="190,393.55 191.92,390.14 188.08,390.14" fill="#2e9a2e"/>
<polygon points="196.09,394.02 198.01,390.6 194.17,390.6" fill="#2e9a2e"/>
<polygon points="202.19,394.36 204.11,390.94 200.26,390.94" fill="#2e9a2e"/>
<polygon points="208.28,394.14 210.2,390.72 206.36,390.72" fill="#2e9a2e"/>
<polygon points="214.37,393.74 216.29,390.32 212.45,390.32" fill="#2e9a2e"/>
<polygon points="220.47,393.35 222.39,389.93 218.54,389.93" fill="#2e9a2e"/>
<polygon points="226.56,393.12 228.48,389.71 224.64,389.71" fill="#2e9a2e"/>
<polygon points="232.65,392.88 234.57,389.46 230.73,389.46" fill="#2e9a2e"/>
<polygon points="238.75,392.47 240.67,389.05 236.82,389.05" fill="#2e9a2e"/>
<polygon points="244.84,390.75 246.76,387.34 242.92,387.34" fill="#2e9a2e"/>
<polygon points="250.93,388.33 252.85,384.91 249.01,384.91" fill="#2e9a2e"/>
<polygon points="257.03,389.03 258.95,385.61 255.1,385.61" fill="#2e9a2e"/>
<polygon points="263.12,390.52 265.04,387.1 261.2,387.1" fill="#2e9a2e"/>
<polygon points="269.21,392.14 271.13,388.72 267.29,388.72" fill="#2e9a2e"/>
<polygon points="275.31,392.25 277.23,388.83 273.39,388.83" fill="#2e9a2e"/>
<polygon points="281.4,390.73 283.32,387.32 279.48,387.32" fill="#2e9a2e"/>
<polygon points="287.49,388.72 289.42,385.3 285.57,385.3" fill="#2e9a2e"/>
<polygon points="293.59,387.88 295.51,384.46 291.67,384.46" fill="#2e9a2e"/>
<polygon points="299.85,385.52 301.78,382.1 297.93,382.1" fill="#2e9a2e"/>
<polygon points="305.43,382.17 307.35,378.75 303.5,378.75" fill="#2e9a2e"/>
<polygon points="311.69,377.96 313.61,374.54 309.77,374.54" fill="#2e9a2e"/>
<polygon points="317.61,372.7 319.53,369.28 315.69,369.28" fill="#2e9a2e"/>
<polygon points="324.23,366.89 326.15,363.47 322.31,363.47" fill="#2e9a2e"/>
<polygon points="330.67,361.83 332.59,358.41 328.75,358.41" fill="#2e9a2e"/>
<polygon points="333.11,360.15 335.03,356.73 331.19,356.73" fill="#2e9a2e"/>
<polyline points="158.02,445.11 162.61,424.81 167.2,405.5 171.8,393.75 173.91,396.62 177.45,396.29 185.39,396.82 191.57,397.29 197.76,397.63 203.94,397.41 210.12,397.01 216.3,396.61 222.48,396.38 228.66,396.14 234.84,395.72 241.02,393.98 247.2,391.52 253.38,392.23 259.57,393.74 265.75,395.38 271.93,395.49 278.11,393.96 284.29,391.92 290.47,391.06 296.83,388.67 302.48,385.27 308.84,381 314.84,375.66 321.55,369.77 328.09,364.64 330.56,362.93" fill="none" stroke="#222" stroke-width="0.95" stroke-linejoin="round"/>
<circle cx="158.02" cy="445.11" r="2.01" fill="url(#sGrn)"/>
<circle cx="162.61" cy="424.81" r="2.01" fill="url(#sGrn)"/>
<circle cx="167.2" cy="405.5" r="2.01" fill="url(#sGrn)"/>
<circle cx="171.8" cy="393.75" r="2.01" fill="url(#sGrn)"/>
<circle cx="173.91" cy="396.62" r="2.01" fill="url(#sGrn)"/>
<circle cx="177.45" cy="396.29" r="2.01" fill="url(#sGrn)"/>
<circle cx="185.39" cy="396.82" r="2.01" fill="url(#sGrn)"/>
<circle cx="191.57" cy="397.29" r="2.01" fill="url(#sGrn)"/>
<circle cx="197.76" cy="397.63" r="2.01" fill="url(#sGrn)"/>
<circle cx="203.94" cy="397.41" r="2.01" fill="url(#sGrn)"/>
<circle cx="210.12" cy="397.01" r="2.01" fill="url(#sGrn)"/>
<circle cx="216.3" cy="396.61" r="2.01" fill="url(#sGrn)"/>
<circle cx="222.48" cy="396.38" r="2.01" fill="url(#sGrn)"/>
<circle cx="228.66" cy="396.14" r="2.01" fill="url(#sGrn)"/>
<circle cx="234.84" cy="395.72" r="2.01" fill="url(#sGrn)"/>
<circle cx="241.02" cy="393.98" r="2.01" fill="url(#sGrn)"/>
<circle cx="247.2" cy="391.52" r="2.01" fill="url(#sGrn)"/>
<circle cx="253.38" cy="392.23" r="2.01" fill="url(#sGrn)"/>
<circle cx="259.57" cy="393.74" r="2.01" fill="url(#sGrn)"/>
<circle cx="265.75" cy="395.38" r="2.01" fill="url(#sGrn)"/>
<circle cx="271.93" cy="395.49" r="2.01" fill="url(#sGrn)"/>
<circle cx="278.11" cy="393.96" r="2.01" fill="url(#sGrn)"/>
<circle cx="284.29" cy="391.92" r="2.01" fill="url(#sGrn)"/>
<circle cx="290.47" cy="391.06" r="2.01" fill="url(#sGrn)"/>
<circle cx="296.83" cy="388.67" r="2.01" fill="url(#sGrn)"/>
<circle cx="302.48" cy="385.27" r="2.01" fill="url(#sGrn)"/>
<circle cx="308.84" cy="381" r="2.01" fill="url(#sGrn)"/>
<circle cx="314.84" cy="375.66" r="2.01" fill="url(#sGrn)"/>
<circle cx="321.55" cy="369.77" r="2.01" fill="url(#sGrn)"/>
<circle cx="328.09" cy="364.64" r="2.01" fill="url(#sGrn)"/>
<circle cx="330.56" cy="362.93" r="2.01" fill="url(#sGrn)"/>
<polyline points="140.6,466.34 142.08,460.99 143.57,455.65 145.05,450.64 146.53,445.99 148.01,441.33 149.5,436.85 150.98,432.36 152.46,427.88 153.94,423.39 155.43,418.91 156.91,414.48 158.02,411.15 159.13,408.56 160.99,423.22 165.06,429.26 172.48,430.12 179.52,430.25 186.01,429.71 192.49,429.93 199.91,430.15 207.32,430.24 214.73,430.43 222.14,430.7 229.56,431.24 236.97,431.86 244.38,432.07 251.8,432.13 259.21,431.97 266.62,431.63 274.04,431.2 281.45,430.65 288.86,428.42 294.42,423.92 299.98,418.63 305.54,413.39 311.1,408.85 316.66,404.11 322.22,398.21 325.93,393.9" fill="none" stroke="#000" stroke-width="0.99" stroke-linejoin="round"/>
<polygon points="140.6,468.73 142.75,464.9 138.45,464.9" fill="#f07020"/>
<polygon points="142.08,463.38 144.24,459.56 139.93,459.56" fill="#f07020"/>
<polygon points="143.57,458.04 145.72,454.21 141.41,454.21" fill="#f07020"/>
<polygon points="145.05,453.04 147.2,449.21 142.89,449.21" fill="#f07020"/>
<polygon points="146.53,448.38 148.68,444.55 144.38,444.55" fill="#f07020"/>
<polygon points="148.01,443.72 150.17,439.9 145.86,439.9" fill="#f07020"/>
<polygon points="149.5,439.24 151.65,435.41 147.34,435.41" fill="#f07020"/>
<polygon points="150.98,434.76 153.13,430.93 148.83,430.93" fill="#f07020"/>
<polygon points="152.46,430.27 154.61,426.44 150.31,426.44" fill="#f07020"/>
<polygon points="153.94,425.79 156.1,421.96 151.79,421.96" fill="#f07020"/>
<polygon points="155.43,421.3 157.58,417.47 153.27,417.47" fill="#f07020"/>
<polygon points="156.91,416.87 159.06,413.04 154.76,413.04" fill="#f07020"/>
<polygon points="158.02,413.54 160.17,409.71 155.87,409.71" fill="#f07020"/>
<polygon points="159.13,410.95 161.29,407.13 156.98,407.13" fill="#f07020"/>
<polygon points="160.99,425.61 163.14,421.79 158.83,421.79" fill="#f07020"/>
<polygon points="165.06,431.65 167.22,427.82 162.91,427.82" fill="#f07020"/>
<polygon points="172.48,432.51 174.63,428.69 170.32,428.69" fill="#f07020"/>
<polygon points="179.52,432.64 181.67,428.82 177.37,428.82" fill="#f07020"/>
<polygon points="186.01,432.11 188.16,428.28 183.85,428.28" fill="#f07020"/>
<polygon points="192.49,432.33 194.65,428.5 190.34,428.5" fill="#f07020"/>
<polygon points="199.91,432.54 202.06,428.71 197.75,428.71" fill="#f07020"/>
<polygon points="207.32,432.64 209.47,428.81 205.17,428.81" fill="#f07020"/>
<polygon points="214.73,432.82 216.88,428.99 212.58,428.99" fill="#f07020"/>
<polygon points="222.14,433.09 224.3,429.26 219.99,429.26" fill="#f07020"/>
<polygon points="229.56,433.63 231.71,429.8 227.4,429.8" fill="#f07020"/>
<polygon points="236.97,434.25 239.12,430.43 234.82,430.43" fill="#f07020"/>
<polygon points="244.38,434.46 246.54,430.63 242.23,430.63" fill="#f07020"/>
<polygon points="251.8,434.52 253.95,430.7 249.64,430.7" fill="#f07020"/>
<polygon points="259.21,434.36 261.36,430.53 257.06,430.53" fill="#f07020"/>
<polygon points="266.62,434.02 268.78,430.19 264.47,430.19" fill="#f07020"/>
<polygon points="274.04,433.59 276.19,429.76 271.88,429.76" fill="#f07020"/>
<polygon points="281.45,433.04 283.6,429.21 279.3,429.21" fill="#f07020"/>
<polygon points="288.86,430.81 291.02,426.98 286.71,426.98" fill="#f07020"/>
<polygon points="294.42,426.32 296.58,422.49 292.27,422.49" fill="#f07020"/>
<polygon points="299.98,421.02 302.14,417.19 297.83,417.19" fill="#f07020"/>
<polygon points="305.54,415.78 307.7,411.96 303.39,411.96" fill="#f07020"/>
<polygon points="311.1,411.24 313.26,407.41 308.95,407.41" fill="#f07020"/>
<polygon points="316.66,406.5 318.81,402.67 314.51,402.67" fill="#f07020"/>
<polygon points="322.22,400.61 324.37,396.78 320.07,396.78" fill="#f07020"/>
<polygon points="325.93,396.29 328.08,392.47 323.78,392.47" fill="#f07020"/>
<polyline points="134.94,473.24 136.44,467.81 137.95,462.38 139.45,457.31 140.96,452.58 142.46,447.85 143.97,443.3 145.47,438.74 146.98,434.19 148.49,429.64 149.99,425.09 151.5,420.58 152.62,417.21 153.75,414.58 155.64,429.46 159.78,435.59 167.3,436.47 174.45,436.6 181.04,436.06 187.62,436.28 195.15,436.49 202.68,436.59 210.2,436.78 217.73,437.06 225.26,437.6 232.78,438.24 240.31,438.44 247.84,438.51 255.36,438.34 262.89,438 270.42,437.56 277.94,437 285.47,434.74 291.11,430.18 296.76,424.8 302.4,419.48 308.05,414.87 313.69,410.06 319.34,404.07 323.1,399.7" fill="none" stroke="#000" stroke-width="1.01" stroke-linejoin="round" stroke-dasharray="2.2,1.3,0.8,1.3"/>
<rect x="133.04" y="471.34" width="3.8" height="3.8" fill="#e8681a"/>
<rect x="134.54" y="465.91" width="3.8" height="3.8" fill="#e8681a"/>
<rect x="136.05" y="460.48" width="3.8" height="3.8" fill="#e8681a"/>
<rect x="137.55" y="455.41" width="3.8" height="3.8" fill="#e8681a"/>
<rect x="139.06" y="450.68" width="3.8" height="3.8" fill="#e8681a"/>
<rect x="140.56" y="445.95" width="3.8" height="3.8" fill="#e8681a"/>
<rect x="142.07" y="441.4" width="3.8" height="3.8" fill="#e8681a"/>
<rect x="143.57" y="436.84" width="3.8" height="3.8" fill="#e8681a"/>
<rect x="145.08" y="432.29" width="3.8" height="3.8" fill="#e8681a"/>
<rect x="146.58" y="427.74" width="3.8" height="3.8" fill="#e8681a"/>
<rect x="148.09" y="423.19" width="3.8" height="3.8" fill="#e8681a"/>
<rect x="149.6" y="418.68" width="3.8" height="3.8" fill="#e8681a"/>
<rect x="150.72" y="415.31" width="3.8" height="3.8" fill="#e8681a"/>
<rect x="151.85" y="412.68" width="3.8" height="3.8" fill="#e8681a"/>
<rect x="153.73" y="427.56" width="3.8" height="3.8" fill="#e8681a"/>
<rect x="157.87" y="433.69" width="3.8" height="3.8" fill="#e8681a"/>
<rect x="165.4" y="434.57" width="3.8" height="3.8" fill="#e8681a"/>
<rect x="172.55" y="434.7" width="3.8" height="3.8" fill="#e8681a"/>
<rect x="179.14" y="434.15" width="3.8" height="3.8" fill="#e8681a"/>
<rect x="185.72" y="434.38" width="3.8" height="3.8" fill="#e8681a"/>
<rect x="193.25" y="434.59" width="3.8" height="3.8" fill="#e8681a"/>
<rect x="200.78" y="434.69" width="3.8" height="3.8" fill="#e8681a"/>
<rect x="208.3" y="434.88" width="3.8" height="3.8" fill="#e8681a"/>
<rect x="215.83" y="435.16" width="3.8" height="3.8" fill="#e8681a"/>
<rect x="223.36" y="435.7" width="3.8" height="3.8" fill="#e8681a"/>
<rect x="230.88" y="436.33" width="3.8" height="3.8" fill="#e8681a"/>
<rect x="238.41" y="436.54" width="3.8" height="3.8" fill="#e8681a"/>
<rect x="245.94" y="436.61" width="3.8" height="3.8" fill="#e8681a"/>
<rect x="253.46" y="436.44" width="3.8" height="3.8" fill="#e8681a"/>
<rect x="260.99" y="436.1" width="3.8" height="3.8" fill="#e8681a"/>
<rect x="268.52" y="435.66" width="3.8" height="3.8" fill="#e8681a"/>
<rect x="276.04" y="435.1" width="3.8" height="3.8" fill="#e8681a"/>
<rect x="283.57" y="432.84" width="3.8" height="3.8" fill="#e8681a"/>
<rect x="289.21" y="428.28" width="3.8" height="3.8" fill="#e8681a"/>
<rect x="294.86" y="422.9" width="3.8" height="3.8" fill="#e8681a"/>
<rect x="300.5" y="417.58" width="3.8" height="3.8" fill="#e8681a"/>
<rect x="306.15" y="412.97" width="3.8" height="3.8" fill="#e8681a"/>
<rect x="311.79" y="408.15" width="3.8" height="3.8" fill="#e8681a"/>
<rect x="317.44" y="402.17" width="3.8" height="3.8" fill="#e8681a"/>
<rect x="321.2" y="397.79" width="3.8" height="3.8" fill="#e8681a"/>
<polyline points="129.1,480.36 130.63,474.84 132.16,469.33 133.68,464.17 135.21,459.37 136.74,454.57 138.27,449.95 139.8,445.32 141.33,440.7 142.86,436.08 144.39,431.45 145.91,426.88 147.06,423.45 148.21,420.78 150.12,435.9 154.32,442.12 161.97,443.01 169.23,443.15 175.92,442.59 182.6,442.82 190.25,443.04 197.89,443.14 205.53,443.33 213.18,443.61 220.82,444.16 228.47,444.81 236.11,445.02 243.75,445.09 251.4,444.92 259.04,444.57 266.68,444.12 274.33,443.56 281.97,441.26 287.7,436.62 293.44,431.16 299.17,425.76 304.9,421.08 310.63,416.19 316.37,410.11 320.19,405.67" fill="none" stroke="#000" stroke-width="1.02" stroke-linejoin="round" stroke-dasharray="3,1.2,0.8,1.2"/>
<polygon points="129.1,477.89 131.32,481.84 126.88,481.84" fill="#a0601e"/>
<polygon points="130.63,472.38 132.85,476.32 128.41,476.32" fill="#a0601e"/>
<polygon points="132.16,466.87 134.38,470.81 129.94,470.81" fill="#a0601e"/>
<polygon points="133.68,461.71 135.9,465.65 131.46,465.65" fill="#a0601e"/>
<polygon points="135.21,456.91 137.43,460.85 132.99,460.85" fill="#a0601e"/>
<polygon points="136.74,452.11 138.96,456.05 134.52,456.05" fill="#a0601e"/>
<polygon points="138.27,447.48 140.49,451.43 136.05,451.43" fill="#a0601e"/>
<polygon points="139.8,442.86 142.02,446.8 137.58,446.8" fill="#a0601e"/>
<polygon points="141.33,438.23 143.55,442.18 139.11,442.18" fill="#a0601e"/>
<polygon points="142.86,433.61 145.08,437.56 140.64,437.56" fill="#a0601e"/>
<polygon points="144.39,428.99 146.61,432.93 142.17,432.93" fill="#a0601e"/>
<polygon points="145.91,424.41 148.13,428.36 143.69,428.36" fill="#a0601e"/>
<polygon points="147.06,420.98 149.28,424.93 144.84,424.93" fill="#a0601e"/>
<polygon points="148.21,418.32 150.43,422.26 145.99,422.26" fill="#a0601e"/>
<polygon points="150.12,433.43 152.34,437.38 147.9,437.38" fill="#a0601e"/>
<polygon points="154.32,439.66 156.54,443.6 152.1,443.6" fill="#a0601e"/>
<polygon points="161.97,440.55 164.19,444.49 159.75,444.49" fill="#a0601e"/>
<polygon points="169.23,440.68 171.45,444.63 167.01,444.63" fill="#a0601e"/>
<polygon points="175.92,440.13 178.14,444.07 173.7,444.07" fill="#a0601e"/>
<polygon points="182.6,440.35 184.82,444.3 180.38,444.3" fill="#a0601e"/>
<polygon points="190.25,440.57 192.47,444.52 188.03,444.52" fill="#a0601e"/>
<polygon points="197.89,440.67 200.11,444.62 195.67,444.62" fill="#a0601e"/>
<polygon points="205.53,440.86 207.75,444.81 203.31,444.81" fill="#a0601e"/>
<polygon points="213.18,441.14 215.4,445.09 210.96,445.09" fill="#a0601e"/>
<polygon points="220.82,441.7 223.04,445.64 218.6,445.64" fill="#a0601e"/>
<polygon points="228.47,442.34 230.69,446.29 226.25,446.29" fill="#a0601e"/>
<polygon points="236.11,442.55 238.33,446.5 233.89,446.5" fill="#a0601e"/>
<polygon points="243.75,442.62 245.97,446.57 241.53,446.57" fill="#a0601e"/>
<polygon points="251.4,442.45 253.62,446.4 249.18,446.4" fill="#a0601e"/>
<polygon points="259.04,442.1 261.26,446.05 256.82,446.05" fill="#a0601e"/>
<polygon points="266.68,441.66 268.9,445.6 264.46,445.6" fill="#a0601e"/>
<polygon points="274.33,441.09 276.55,445.04 272.11,445.04" fill="#a0601e"/>
<polygon points="281.97,438.79 284.19,442.74 279.75,442.74" fill="#a0601e"/>
<polygon points="287.7,434.16 289.92,438.1 285.48,438.1" fill="#a0601e"/>
<polygon points="293.44,428.7 295.66,432.64 291.22,432.64" fill="#a0601e"/>
<polygon points="299.17,423.3 301.39,427.24 296.95,427.24" fill="#a0601e"/>
<polygon points="304.9,418.61 307.12,422.56 302.68,422.56" fill="#a0601e"/>
<polygon points="310.63,413.72 312.85,417.67 308.41,417.67" fill="#a0601e"/>
<polygon points="316.37,407.65 318.59,411.59 314.15,411.59" fill="#a0601e"/>
<polygon points="320.19,403.2 322.41,407.15 317.97,407.15" fill="#a0601e"/>
<polyline points="123.08,487.7 124.63,482.1 126.18,476.5 127.73,471.26 129.29,466.38 130.84,461.51 132.39,456.81 133.95,452.11 135.5,447.42 137.05,442.72 138.6,438.02 140.16,433.38 141.32,429.89 142.49,427.18 144.43,442.54 148.7,448.86 156.46,449.76 163.84,449.9 170.63,449.34 177.43,449.57 185.19,449.79 192.95,449.89 200.72,450.09 208.48,450.37 216.25,450.93 224.01,451.59 231.78,451.8 239.54,451.87 247.3,451.7 255.07,451.34 262.83,450.89 270.6,450.32 278.36,447.98 284.19,443.27 290.01,437.73 295.83,432.24 301.66,427.49 307.48,422.52 313.3,416.35 317.18,411.83" fill="none" stroke="#000" stroke-width="1.04" stroke-linejoin="round"/>
<circle cx="123.08" cy="487.7" r="2.33" fill="url(#sOrg)"/>
<circle cx="124.63" cy="482.1" r="2.33" fill="url(#sOrg)"/>
<circle cx="126.18" cy="476.5" r="2.33" fill="url(#sOrg)"/>
<circle cx="127.73" cy="471.26" r="2.33" fill="url(#sOrg)"/>
<circle cx="129.29" cy="466.38" r="2.33" fill="url(#sOrg)"/>
<circle cx="130.84" cy="461.51" r="2.33" fill="url(#sOrg)"/>
<circle cx="132.39" cy="456.81" r="2.33" fill="url(#sOrg)"/>
<circle cx="133.95" cy="452.11" r="2.33" fill="url(#sOrg)"/>
<circle cx="135.5" cy="447.42" r="2.33" fill="url(#sOrg)"/>
<circle cx="137.05" cy="442.72" r="2.33" fill="url(#sOrg)"/>
<circle cx="138.6" cy="438.02" r="2.33" fill="url(#sOrg)"/>
<circle cx="140.16" cy="433.38" r="2.33" fill="url(#sOrg)"/>
<circle cx="141.32" cy="429.89" r="2.33" fill="url(#sOrg)"/>
<circle cx="142.49" cy="427.18" r="2.33" fill="url(#sOrg)"/>
<circle cx="144.43" cy="442.54" r="2.33" fill="url(#sOrg)"/>
<circle cx="148.7" cy="448.86" r="2.33" fill="url(#sOrg)"/>
<circle cx="156.46" cy="449.76" r="2.33" fill="url(#sOrg)"/>
<circle cx="163.84" cy="449.9" r="2.33" fill="url(#sOrg)"/>
<circle cx="170.63" cy="449.34" r="2.33" fill="url(#sOrg)"/>
<circle cx="177.43" cy="449.57" r="2.33" fill="url(#sOrg)"/>
<circle cx="185.19" cy="449.79" r="2.33" fill="url(#sOrg)"/>
<circle cx="192.95" cy="449.89" r="2.33" fill="url(#sOrg)"/>
<circle cx="200.72" cy="450.09" r="2.33" fill="url(#sOrg)"/>
<circle cx="208.48" cy="450.37" r="2.33" fill="url(#sOrg)"/>
<circle cx="216.25" cy="450.93" r="2.33" fill="url(#sOrg)"/>
<circle cx="224.01" cy="451.59" r="2.33" fill="url(#sOrg)"/>
<circle cx="231.78" cy="451.8" r="2.33" fill="url(#sOrg)"/>
<circle cx="239.54" cy="451.87" r="2.33" fill="url(#sOrg)"/>
<circle cx="247.3" cy="451.7" r="2.33" fill="url(#sOrg)"/>
<circle cx="255.07" cy="451.34" r="2.33" fill="url(#sOrg)"/>
<circle cx="262.83" cy="450.89" r="2.33" fill="url(#sOrg)"/>
<circle cx="270.6" cy="450.32" r="2.33" fill="url(#sOrg)"/>
<circle cx="278.36" cy="447.98" r="2.33" fill="url(#sOrg)"/>
<circle cx="284.19" cy="443.27" r="2.33" fill="url(#sOrg)"/>
<circle cx="290.01" cy="437.73" r="2.33" fill="url(#sOrg)"/>
<circle cx="295.83" cy="432.24" r="2.33" fill="url(#sOrg)"/>
<circle cx="301.66" cy="427.49" r="2.33" fill="url(#sOrg)"/>
<circle cx="307.48" cy="422.52" r="2.33" fill="url(#sOrg)"/>
<circle cx="313.3" cy="416.35" r="2.33" fill="url(#sOrg)"/>
<circle cx="317.18" cy="411.83" r="2.33" fill="url(#sOrg)"/>
<line x1="119.3" y1="492.3" x2="119.3" y2="355.5" stroke="#111" stroke-width="1.3"/>
<line x1="119.3" y1="492.3" x2="315.3" y2="492.3" stroke="#111" stroke-width="1.3"/>
<line x1="315.3" y1="492.3" x2="359.8" y2="383.6" stroke="#222" stroke-width="0.95"/>
<line x1="119.3" y1="492.3" x2="122.5" y2="492.3" stroke="#111" stroke-width="1.1"/>
<text x="115" y="494.9" font-size="7.4" font-weight="bold" text-anchor="end" fill="#222">0</text>
<line x1="119.3" y1="464.94" x2="122.5" y2="464.94" stroke="#111" stroke-width="1.1"/>
<text x="115" y="467.54" font-size="7.4" font-weight="bold" text-anchor="end" fill="#222">60</text>
<line x1="119.3" y1="437.58" x2="122.5" y2="437.58" stroke="#111" stroke-width="1.1"/>
<text x="115" y="440.18" font-size="7.4" font-weight="bold" text-anchor="end" fill="#222">120</text>
<line x1="119.3" y1="410.22" x2="122.5" y2="410.22" stroke="#111" stroke-width="1.1"/>
<text x="115" y="412.82" font-size="7.4" font-weight="bold" text-anchor="end" fill="#222">180</text>
<line x1="119.3" y1="382.86" x2="122.5" y2="382.86" stroke="#111" stroke-width="1.1"/>
<text x="115" y="385.46" font-size="7.4" font-weight="bold" text-anchor="end" fill="#222">240</text>
<line x1="119.3" y1="355.5" x2="122.5" y2="355.5" stroke="#111" stroke-width="1.1"/>
<text x="115" y="358.1" font-size="7.4" font-weight="bold" text-anchor="end" fill="#222">300</text>
<line x1="158.5" y1="492.3" x2="158.5" y2="489.3" stroke="#111" stroke-width="1.1"/>
<text x="158.5" y="503.5" font-size="7.4" font-weight="bold" text-anchor="middle" fill="#222">20</text>
<line x1="197.7" y1="492.3" x2="197.7" y2="489.3" stroke="#111" stroke-width="1.1"/>
<text x="197.7" y="503.5" font-size="7.4" font-weight="bold" text-anchor="middle" fill="#222">40</text>
<line x1="236.9" y1="492.3" x2="236.9" y2="489.3" stroke="#111" stroke-width="1.1"/>
<text x="236.9" y="503.5" font-size="7.4" font-weight="bold" text-anchor="middle" fill="#222">60</text>
<line x1="276.1" y1="492.3" x2="276.1" y2="489.3" stroke="#111" stroke-width="1.1"/>
<text x="276.1" y="503.5" font-size="7.4" font-weight="bold" text-anchor="middle" fill="#222">80</text>
<line x1="315.3" y1="492.3" x2="315.3" y2="489.3" stroke="#111" stroke-width="1.1"/>
<text x="315.3" y="503.5" font-size="7.4" font-weight="bold" text-anchor="middle" fill="#222">100</text>
<line x1="326.44" y1="465.08" x2="323.24" y2="465.08" stroke="#111" stroke-width="1.0"/>
<line x1="342.02" y1="427.04" x2="338.82" y2="427.04" stroke="#111" stroke-width="1.0"/>
<line x1="355.13" y1="395.02" x2="351.93" y2="395.02" stroke="#111" stroke-width="1.0"/>
<text x="217.5" y="517.7" font-size="9.3" text-anchor="middle" fill="#111" stroke="#111" stroke-width="0.15">Displacement/mm</text>
<text transform="translate(99.6,423.3) rotate(-90)" font-size="9.2" text-anchor="middle" fill="#111" stroke="#111" stroke-width="0.15">Force/kN</text>
<text x="356.4" y="405.6" font-size="9.06" fill="#111" stroke="#111" stroke-width="0.12">The energy-absorbing box</text>
<text x="356.4" y="417.3" font-size="9.06" fill="#111" stroke="#111" stroke-width="0.12">with Gyroid filled</text>
<text x="342.2" y="441.2" font-size="9.06" fill="#111" stroke="#111" stroke-width="0.12">The energy-absorbing box</text>
<text x="342.2" y="452.9" font-size="9.06" fill="#111" stroke="#111" stroke-width="0.12">with Primitive filled</text>
<text x="329.6" y="474.5" font-size="9.06" fill="#111" stroke="#111" stroke-width="0.12">Traditional thin-walled</text>
<text x="329.6" y="486.2" font-size="9.06" fill="#111" stroke="#111" stroke-width="0.12">energy-absorbing box</text>
<rect x="380.1" y="293.5" width="67.6" height="49.1" fill="#fff" stroke="#c8c8c8" stroke-width="1"/>
<line x1="381.1" y1="300.5" x2="402.7" y2="300.5" stroke="#111" stroke-width="1.1"/>
<circle cx="391.8" cy="300.5" r="2.8" fill="url(#sBlk)"/>
<text x="405.2" y="303.7" font-size="9.4" fill="#111" stroke="#111" stroke-width="0.15">FE Results</text>
<path d="M381.1,312.1H386.2M389,312.1H395M396.8,312.1H399.3M400.9,312.1H402.1" stroke="#111" stroke-width="1.2" fill="none"/>
<polygon points="391.8,308.9 394.9,314 388.7,314" fill="#111"/>
<text x="405.2" y="315.3" font-size="9.4" fill="#111" stroke="#111" stroke-width="0.15">Test 1</text>
<path d="M381.1,323.7H386.2M389,323.7H395M396.8,323.7H399.3M400.9,323.7H402.1" stroke="#111" stroke-width="1.2" fill="none"/>
<rect x="389.3" y="321.2" width="5" height="5" fill="#111"/>
<text x="405.2" y="326.9" font-size="9.4" fill="#111" stroke="#111" stroke-width="0.15">Test 2</text>
<path d="M381.1,335.3H386.2M389,335.3H395M396.8,335.3H399.3M400.9,335.3H402.1" stroke="#111" stroke-width="1.2" fill="none"/>
<polygon points="391.8,338.5 394.9,333.4 388.7,333.4" fill="#111"/>
<text x="405.2" y="338.5" font-size="9.4" fill="#111" stroke="#111" stroke-width="0.15">Test 3</text>
<text x="272.3" y="537.2" font-size="12.8" font-weight="bold" text-anchor="middle" fill="#111">(b)</text>
</svg>
</body></html>
